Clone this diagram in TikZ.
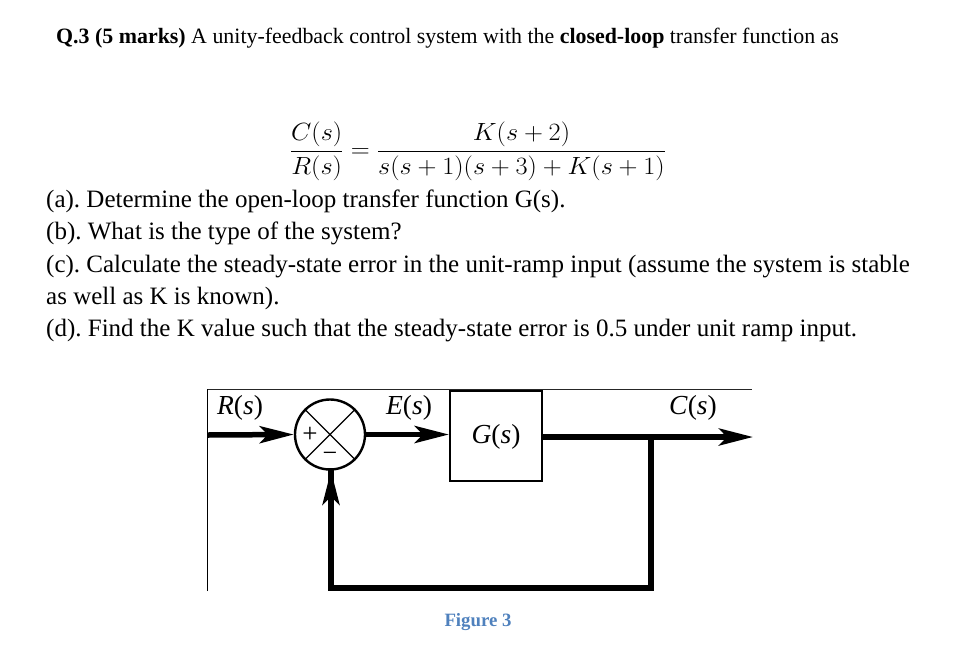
\documentclass[tikz,border=0pt]{standalone}
\usepackage[no-math]{fontspec}
\setmainfont{Liberation Serif}
\usetikzlibrary{arrows.meta}
\definecolor{capblue}{HTML}{4F81BD}
\frenchspacing
\begin{document}
\begin{tikzpicture}[x=1pt,y=-1pt,
  txt/.style={anchor=base west,inner sep=0pt,font=\fontsize{25}{28}\selectfont},
  ttl/.style={anchor=base west,inner sep=0pt,font=\fontsize{21.9}{26}\selectfont},
  lbl/.style={inner sep=0pt,font=\fontsize{27.5}{30}\selectfont},
  sig/.style={line width=5.5pt},
  tipA/.style={-{Stealth[length=34pt,width=17pt,inset=8pt]}},
  frame/.style={line width=1.2pt},
  blk/.style={draw,line width=2.2pt,minimum width=92pt,minimum height=90pt,inner sep=0pt},
  sumc/.style={draw,circle,line width=2.4pt,minimum size=70pt,inner sep=0pt}]
\useasboundingbox (0,0) rectangle (963,654);
% text
\node[ttl] (title) at (56,43) {\textbf{Q.3 (5 marks)} A unity-feedback control system with the \textbf{closed-loop} transfer function as};
\node[inner sep=0pt,anchor=center] (eq) at (478,151) {\scalebox{1.056}[1]{\fontsize{24}{28}\selectfont$\displaystyle\frac{C(s)}{R(s)}=\frac{K(s+2)}{s(s+1)(s+3)+K(s+1)}$}};
\node[txt] (qa) at (46,207) {(a). Determine the open-loop transfer function G(s).};
\node[txt] (qb) at (46,239.5) {(b). What is the type of the system?};
\node[txt] (qc) at (46,272) {(c). Calculate the steady-state error in the unit-ramp input (assume the system is stable};
\node[txt] (qc2) at (46,304) {as well as K is known).};
\node[txt] (qd) at (46,336.5) {(d). Find the K value such that the steady-state error is 0.5 under unit ramp input.};
% frame
\coordinate (ftl) at (207.5,389);
\coordinate (fbl) at (207.5,591);
\coordinate (ftr) at (752,389);
\draw[frame] (fbl) -- (ftl);
\draw[line width=0.9pt,black!85] (ftl) -- (ftr);
% diagram
\node[sumc] (sum) at (330,434.5) {};
\draw[line width=1.3pt] (sum.north west) -- (sum.south east) (sum.north east) -- (sum.south west);
\node[inner sep=0pt,font=\fontsize{27}{28}\selectfont] (plus) at (310,434.5) {+};
\node[inner sep=0pt,font=\fontsize{26}{28}\selectfont] (minus) at (330,457) {\textminus};
\node[blk] (G) at (496,436) {};
\node[lbl] (Gt) at (496,437) {\textit{G}(\textit{s})};
\coordinate (in) at (207.5,435);
\coordinate (out) at (753,437);
\coordinate (br) at (651,437);
\coordinate (fr) at (651,588);
\coordinate (fl) at (331,588);
\draw[sig,tipA] (in) -- (sum.west);
\draw[sig,tipA] (sum.east) -- (G.west |- sum.east);
\draw[sig,tipA] (G.east |- out) -- (out);
\draw[sig,line cap=rect] (br) -- (fr) -- (fl) -- (fl |- sum.south);
\draw[sig,tipA] (fl) -- (fl |- sum.south);
\node[lbl] (Rl) at (240,408) {\textit{R}(\textit{s})};
\node[lbl] (El) at (409,408) {\textit{E}(\textit{s})};
\node[lbl] (Cl) at (693,408) {\textit{C}(\textit{s})};
\node[inner sep=0pt,font=\fontsize{18.8}{20}\selectfont\bfseries,text=capblue] (fig) at (478,622) {Figure 3};
\end{tikzpicture}
\end{document}
